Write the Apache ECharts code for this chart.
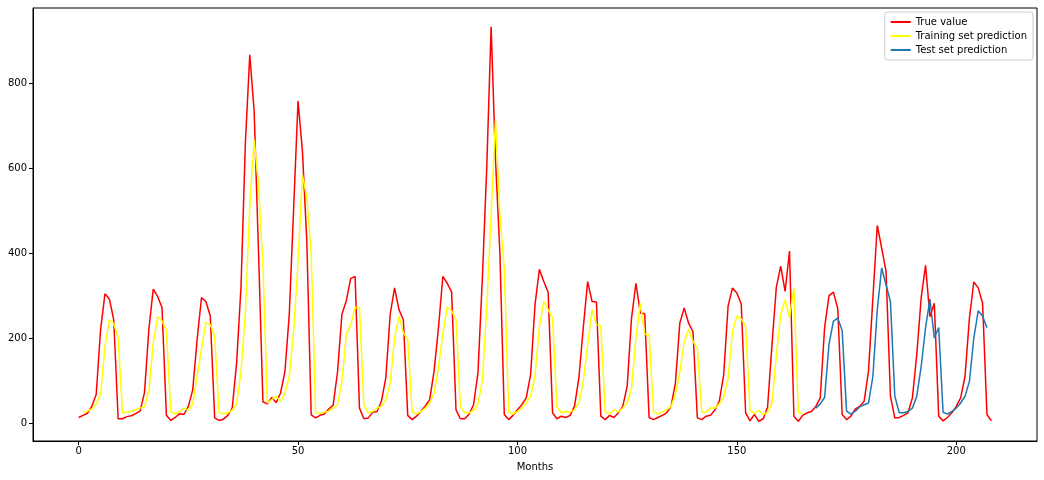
<!DOCTYPE html>
<html>
<head>
<meta charset="utf-8">
<script src="https://cdn.jsdelivr.net/npm/echarts@6/dist/echarts.min.js"></script>
<style>
html,body{margin:0;padding:0;background:#fff;}
#chart{width:1044px;height:480px;}
</style>
</head>
<body>
<div id="chart"></div>
<script>
// True values, months 0..208
const trueValue = [
13,18,23,39,67,220,304,292,243,10,
10,15,17,22,28,71,220,315,298,272,
18,6,13,22,20,39,78,196,295,286,
252,12,6,9,18,35,141,320,660,867,
734,400,50,45,60,48,70,120,255,506,
758,640,428,19,12,18,21,33,42,120,
256,288,340,345,35,10,12,25,27,51,
106,256,318,267,243,18,8,16,27,40,
55,122,224,345,329,308,31,10,10,21,
43,118,340,600,933,620,400,20,8,18,
31,43,59,114,278,362,333,308,24,10,
16,13,18,39,106,224,333,286,285,16,
8,18,13,24,39,86,247,329,259,257,
13,8,13,18,24,39,94,235,271,235,
215,12,8,16,18,31,51,114,275,318,
306,280,24,5,20,4,10,37,184,320,
369,310,405,16,4,18,24,27,39,59,
225,300,308,269,20,8,16,33,39,51,
122,294,465,412,357,63,12,13,18,24,
59,161,294,371,250,282,16,5,13,24,
39,59,110,247,332,318,282,20,5
];
// Training set prediction, months 1..165
const trainStart = 1;
const trainPred = [
25,28,33,45,67,180,243,235,200,
24,25,27,31,35,39,75,188,250,240,
218,27,21,27,35,30,45,110,175,236,
232,204,25,21,24,30,45,120,260,510,
667,560,373,47,55,63,51,70,110,215,
380,584,530,400,25,22,25,28,35,43,
98,208,231,272,272,43,24,27,35,39,
55,94,200,251,212,196,27,21,27,35,
47,70,130,210,273,264,243,38,24,24,
30,45,100,270,490,714,490,365,27,21,
27,35,47,63,110,227,286,267,247,39,
24,27,26,31,47,98,184,267,231,229,
27,21,31,26,35,47,82,200,282,209,
208,27,21,26,31,39,67,120,192,220,
192,176,25,26,35,35,45,60,105,215,
252,245,228,30,22,30,20,25,45,160,
255,290,248,318,25,22
];
// Test set prediction, months 168..207
const testStart = 168;
const testPred = [
35,45,60,185,240,247,218,28,21,28,
38,43,47,110,267,365,325,286,63,24,
24,27,35,63,133,224,292,200,225,25,
21,27,35,47,63,98,200,264,252,224
];
const seriesNames = ['True value','Training set prediction','Test set prediction'];
const xTicks = [0,50,100,150,200];
const yTicks = [0,200,400,600,800];

function pairs(arr, start){ return arr.map((v,k)=>[start+k, v]); }

const font = 'DejaVu Sans';
const chart = echarts.init(document.getElementById('chart'), null, {renderer:'canvas'});
chart.setOption({
  animation:false,
  backgroundColor:'#fff',
  grid:{left:33,right:7,top:8,bottom:39,show:true,borderColor:'#000',borderWidth:1,backgroundColor:'transparent'},
  xAxis:{
    type:'value',min:-10.4,max:218.4,
    name:'Months',nameLocation:'middle',nameGap:21,
    nameTextStyle:{color:'#000',fontFamily:font,fontSize:10},
    axisLine:{show:true,onZero:false,lineStyle:{color:'#000',width:1}},
    axisTick:{show:true,length:4,lineStyle:{color:'#000'},customValues:xTicks},
    axisLabel:{color:'#000',fontFamily:font,fontSize:10,margin:5,customValues:xTicks},
    splitLine:{show:false}
  },
  yAxis:{
    type:'value',min:-42.4,max:977,
    axisLine:{show:true,onZero:false,lineStyle:{color:'#000',width:1}},
    axisTick:{show:true,length:4,lineStyle:{color:'#000'},customValues:yTicks},
    axisLabel:{color:'#000',fontFamily:font,fontSize:10,margin:6,customValues:yTicks},
    splitLine:{show:false}
  },
  legend:{
    orient:'vertical',right:11,top:12,
    data:seriesNames.map(n=>({name:n,icon:'rect'})),
    itemWidth:20,itemHeight:2,itemGap:4,
    textStyle:{color:'#000',fontFamily:font,fontSize:10},
    padding:[5,6,5,6],
    borderColor:'#ccc',borderWidth:1,borderRadius:3,
    backgroundColor:'rgba(255,255,255,0.8)'
  },
  series:[
    {name:seriesNames[0],type:'line',data:pairs(trueValue,0),symbol:'none',
     lineStyle:{color:'#ff0000',width:1.5},itemStyle:{color:'#ff0000'},z:2},
    {name:seriesNames[1],type:'line',data:pairs(trainPred,trainStart),symbol:'none',
     lineStyle:{color:'#ffff00',width:1.5},itemStyle:{color:'#ffff00'},z:3},
    {name:seriesNames[2],type:'line',data:pairs(testPred,testStart),symbol:'none',
     lineStyle:{color:'#1f77b4',width:1.5},itemStyle:{color:'#1f77b4'},z:4}
  ]
});
</script>
</body>
</html>
